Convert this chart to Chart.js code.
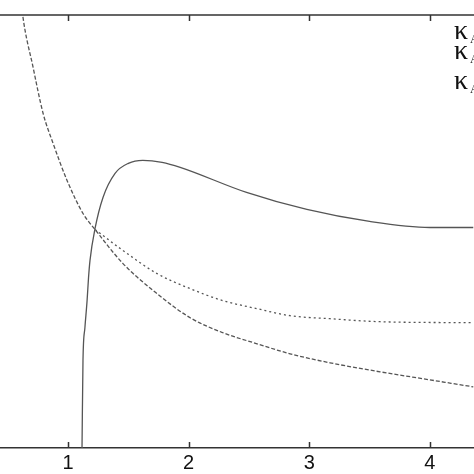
<!DOCTYPE html>
<html lang="en">
<head>
    <meta charset="UTF-8">
    <title>kappa curves</title>
    <script src="https://cdn.jsdelivr.net/npm/chart.js"></script>
    <style>
        body { margin: 0; background: #fff; }
        #wrap { width: 474px; height: 474px; }
    </style>
</head>
<body>
    <div id="wrap"><canvas id="myChart"></canvas></div>

    <script>
        // values
        const xTicks = [1, 2, 3, 4];

        const solidX = [1.116, 1.124, 1.140, 1.158, 1.170, 1.182, 1.224, 1.29, 1.39, 1.50, 1.62, 1.78, 1.93, 2.48, 2.98, 3.50, 4.00, 4.36];
        const solidY = [0.00, 0.87, 1.20, 1.47, 1.70, 1.87, 2.19, 2.50, 2.74, 2.84, 2.87, 2.85, 2.80, 2.55, 2.38, 2.26, 2.20, 2.20];

        const dashX = [0.60, 0.624, 0.710, 0.793, 0.876, 0.992, 1.124, 1.224, 1.456, 1.738, 2.012, 2.285, 2.567, 2.841, 3.172, 3.587, 4.00, 4.36];
        const dashY = [4.60, 4.32, 3.80, 3.34, 3.04, 2.67, 2.34, 2.18, 1.84, 1.54, 1.30, 1.15, 1.04, 0.94, 0.85, 0.76, 0.68, 0.61];

        const dotX = [1.224, 1.456, 1.738, 2.012, 2.285, 2.567, 2.841, 3.172, 3.587, 4.36];
        const dotY = [2.18, 1.97, 1.74, 1.59, 1.47, 1.39, 1.32, 1.29, 1.26, 1.25];

        const legendLabels = ['κ', 'κ', 'κ'];

        function toPoints(xs, ys) {
            return xs.map((x, i) => ({ x: x, y: ys[i] }));
        }

        // top frame line, inward ticks and the cut-off kappa labels
        const framePlugin = {
            id: 'frame',
            afterDraw(chart) {
                const ctx = chart.ctx;
                const area = chart.chartArea;
                const sx = chart.scales.x;
                ctx.save();
                ctx.strokeStyle = '#333';
                ctx.lineWidth = 1.5;
                ctx.beginPath();
                ctx.moveTo(0, area.top);
                ctx.lineTo(chart.width, area.top);
                xTicks.forEach((t) => {
                    const px = Math.round(sx.getPixelForValue(t)) + 0.5;
                    ctx.moveTo(px, area.top);
                    ctx.lineTo(px, area.top + 6);
                    ctx.moveTo(px, area.bottom);
                    ctx.lineTo(px, area.bottom - 6);
                });
                ctx.stroke();

                ctx.fillStyle = '#111';
                const ys = [32, 52, 82];
                legendLabels.forEach((lab, i) => {
                    ctx.font = '28px "Liberation Serif", serif';
                    ctx.textBaseline = 'middle';
                    ctx.fillText(lab, 454, ys[i]);
                    ctx.font = '12px "Liberation Serif", serif';
                    ctx.fillText('AA', 470, ys[i] + 8);
                });
                ctx.restore();
            }
        };

        const ctx = document.getElementById('myChart');
        const lineBase = {
            borderColor: '#555',
            borderWidth: 1.3,
            pointRadius: 0,
            cubicInterpolationMode: 'monotone'
        };
        new Chart(ctx, {
            type: 'line',
            data: {
                datasets: [
                    Object.assign({ label: 'solid', data: toPoints(solidX, solidY) }, lineBase),
                    Object.assign({ label: 'dashed', data: toPoints(dashX, dashY), borderDash: [4, 2] }, lineBase),
                    Object.assign({ label: 'dotted', data: toPoints(dotX, dotY), borderDash: [2, 3] }, lineBase)
                ]
            },
            options: {
                responsive: true,
                maintainAspectRatio: false,
                animation: false,
                layout: { padding: { top: 15, left: 0, right: 0, bottom: -4 } },
                plugins: { legend: { display: false }, tooltip: { enabled: false } },
                scales: {
                    x: {
                        type: 'linear',
                        min: 0.436,
                        max: 4.366,
                        grid: { display: false, drawTicks: false },
                        border: { display: true, color: '#333', width: 1.5 },
                        ticks: {
                            stepSize: 1,
                            includeBounds: false,
                            padding: 3,
                            maxRotation: 0,
                            color: '#111',
                            font: { family: '"Liberation Sans", Arial, sans-serif', size: 20 }
                        }
                    },
                    y: {
                        display: false,
                        min: 0,
                        max: 4.32
                    }
                }
            },
            plugins: [framePlugin]
        });
    </script>
</body>
</html>
